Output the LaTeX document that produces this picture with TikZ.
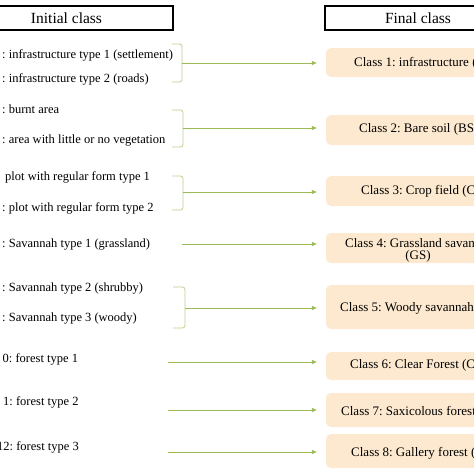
\documentclass[tikz,border=0pt]{standalone}
\usepackage{fontspec}
\setmainfont{Liberation Serif}
\usetikzlibrary{arrows.meta}
\frenchspacing

\definecolor{leaf}{HTML}{9BBB59}
\definecolor{peach}{HTML}{FDE9CF}

\begin{document}
\begin{tikzpicture}[
  x=1pt,
  y=-1pt,
  font=\fontsize{12.5}{14}\selectfont,
  head/.style={
    rectangle,
    draw=black,
    line width=2.4pt,
    minimum height=24pt,
    font=\fontsize{15.5}{17}\selectfont
  },
  cls/.style={
    rectangle,
    fill=peach,
    rounded corners=5pt,
    minimum width=184pt
  },
  src/.style={
    anchor=west,
    inner sep=0pt
  },
  dst/.style={
    anchor=west,
    inner sep=0pt,
    font=\fontsize{13}{14.5}\selectfont
  },
  brk/.style={
    draw=leaf!70,
    line width=0.8pt,
    rounded corners=2.5pt
  },
  arr/.style={
    draw=leaf,
    line width=0.8pt,
    -{Triangle[length=5pt,width=4pt]},
    shorten >=9pt
  }
]

\useasboundingbox (0,0) rectangle (474,474);
\clip (0,0) rectangle (474,474);

% =========================================================
% TITLES
% =========================================================

\node[head, minimum width=213pt] (hinit) at (66.5,18) {Initial class};
\node[head, minimum width=186pt] (hfin) at (418,18) {Final class};

% =========================================================
% INITIAL CLASSES
% =========================================================

\node[src] (i1) at (2,55) {: infrastructure type 1 (settlement)};
\node[src] (i2) at (2,79) {: infrastructure type 2 (roads)};
\node[src] (i3) at (2,109) {: burnt area};
\node[src] (i4) at (2,141) {: area with little or no vegetation};
\node[src] (i5) at (5,177) {plot with regular form type 1};
\node[src] (i6) at (2,208) {: plot with regular form type 2};
\node[src] (i7) at (2,245) {: Savannah type 1 (grassland)};
\node[src] (i8) at (2,289) {: Savannah type 2 (shrubby)};
\node[src] (i9) at (2,319) {: Savannah type 3 (woody)};
\node[src] (i10) at (2.5,359) {0: forest type 1};
\node[src] (i11) at (3,402) {1: forest type 2};
\node[src] (i12) at (-3,447) {12: forest type 3};

% =========================================================
% FINAL CLASSES
% =========================================================

\node[cls, minimum height=29pt] (c1) at (418,62.5) {};
\node[cls, minimum height=30pt] (c2) at (418,130) {};
\node[cls, minimum height=30pt] (c3) at (418,191) {};
\node[cls, minimum height=30pt] (c4) at (418,248) {};
\node[cls, minimum height=44pt] (c5) at (418,307) {};
\node[cls, minimum height=28pt] (c6) at (418,366) {};
\node[cls, minimum height=34pt] (c7) at (418,410) {};
\node[cls, minimum height=34pt] (c8) at (418,451) {};

\node[dst] (t1) at (354,63) {Class 1: infrastructure (};
\node[dst] (t2) at (359,129) {Class 2: Bare soil (BS};
\node[dst] (t3) at (361,191) {Class 3: Crop field (C};
\node[dst] (t4) at (345,243) {Class 4: Grassland savannah};
\node[font=\fontsize{13}{14.5}\selectfont, inner sep=0pt] (t4b) at (418,256) {(GS)};
\node[dst] (t5) at (340,308) {Class 5: Woody savannah};
\node[dst] (t6) at (350,365) {Class 6: Clear Forest (C};
\node[dst] (t7) at (341,411) {Class 7: Saxicolous forest};
\node[dst] (t8) at (351,453) {Class 8: Gallery forest (};

% =========================================================
% BRACKETS
% =========================================================

\draw[brk] (172,44) -- (182,44) -- (182,82) -- (172,82);
\coordinate (b1) at (182,63);

\draw[brk] (172,110) -- (183,110) -- (183,147) -- (172,147);
\coordinate (b2) at (183,128);

\draw[brk] (172,176) -- (183,176) -- (183,210) -- (172,210);
\coordinate (b3) at (183,192);

\coordinate (b4) at (182,244);

\draw[brk] (173,287) -- (185,287) -- (185,328) -- (173,328);
\coordinate (b5) at (185,308);

\coordinate (b6) at (168,362);
\coordinate (b7) at (168,410);
\coordinate (b8) at (168,452);

% =========================================================
% ARROWS
% =========================================================

\foreach \k in {1,...,8}
  \draw[arr] (b\k) -- (b\k -| c\k.west);

\end{tikzpicture}
\end{document}
